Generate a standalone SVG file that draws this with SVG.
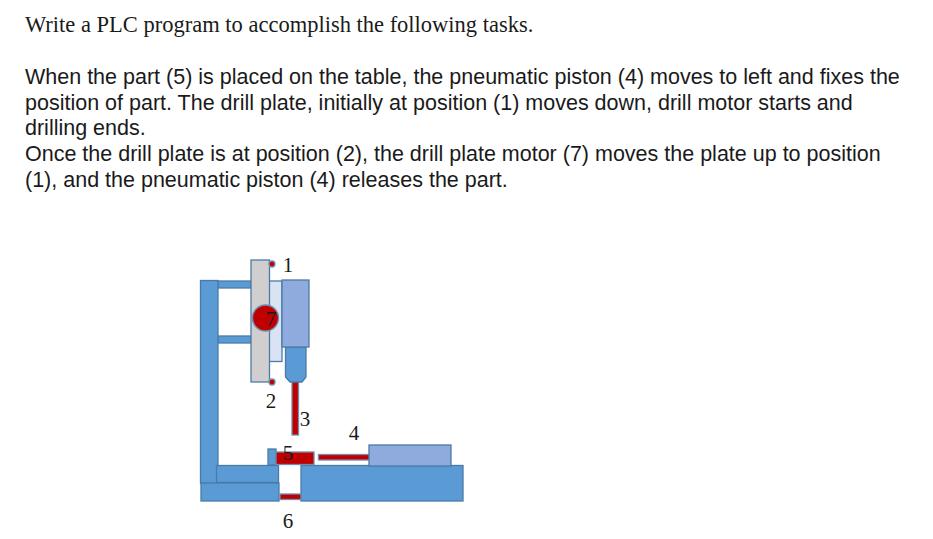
<svg xmlns="http://www.w3.org/2000/svg" width="933" height="539" viewBox="0 0 933 539">
<style>
.t{font-family:"Liberation Serif",serif;font-size:22.5px;fill:#1a1a1a}
.b{font-family:"Liberation Sans",sans-serif;font-size:21.500px;fill:#1a1a1a}
.n{font-family:"Liberation Serif",serif;font-size:21px;fill:#1a1a1a;text-anchor:middle}
.bl{fill:#5b9bd5;stroke:#4a7ba6;stroke-width:1.300}
.lb{fill:#8faadc;stroke:#4a7ba6;stroke-width:1.300}
.rd{fill:#c00000;stroke:#6d8fb3;stroke-width:1.300}
</style>
<rect width="933" height="539" fill="#fff"/>
<g id="text">
<text class="t" x="25" y="32">Write a PLC program to accomplish the following tasks.</text>
<text class="b" x="25" y="84">When the part (5) is placed on the table, the pneumatic piston (4) moves to left and fixes the</text>
<text class="b" x="25" y="110">position of part. The drill plate, initially at position (1) moves down, drill motor starts and</text>
<text class="b" x="25" y="135">drilling ends.</text>
<text class="b" x="25" y="161">Once the drill plate is at position (2), the drill plate motor (7) moves the plate up to position</text>
<text class="b" x="25" y="187">(1), and the pneumatic piston (4) releases the part.</text>
</g>
<g id="frame">
<rect class="bl" x="218" y="281" width="33" height="7"/>
<rect class="bl" x="218" y="336" width="33" height="7"/>
<rect class="bl" x="200.500" y="280.500" width="17.500" height="203"/>
<rect class="bl" x="216.500" y="465.500" width="62" height="17"/>
<rect class="bl" x="201" y="483" width="78" height="18"/>
<rect class="bl" x="268" y="449" width="8" height="16"/>
</g>
<g id="table">
<rect class="bl" x="301" y="465.500" width="162" height="35.500"/>
</g>
<g id="piston4">
<rect class="rd" x="318.500" y="454.500" width="51" height="5.500"/>
<rect class="lb" x="369" y="445" width="82" height="21"/>
<text class="n" x="354" y="440">4</text>
</g>
<g id="part5">
<rect class="rd" x="276" y="452" width="38" height="12.500"/>
<text class="n" x="288" y="460">5</text>
</g>
<g id="sensor6">
<rect class="rd" x="280" y="494" width="21" height="5.500"/>
<text class="n" x="288" y="528">6</text>
</g>
<g id="drill3">
<rect class="rd" x="292" y="381" width="6.500" height="54"/>
<path class="bl" d="M285.500 347H306V377L302 382H290L285.500 377Z"/>
<rect fill="#dae3f3" stroke="#4a7ba6" stroke-width="1.300" x="269" y="281" width="13" height="80.500"/>
<rect class="lb" x="282" y="280" width="27" height="67"/>
<text class="n" x="305" y="426">3</text>
</g>
<g id="plate">
<rect fill="#d0cece" stroke="#4a7ba6" stroke-width="1.300" x="251" y="260" width="18.500" height="122"/>
</g>
<g id="sensor1">
<circle class="rd" cx="272" cy="264" r="3"/>
<text class="n" x="288" y="272">1</text>
</g>
<g id="sensor2">
<circle class="rd" cx="272" cy="382" r="3"/>
<text class="n" x="271" y="408">2</text>
</g>
<g id="motor7">
<circle class="rd" cx="265.500" cy="318" r="13"/>
<text class="n" x="271" y="326">7</text>
</g>
</svg>
